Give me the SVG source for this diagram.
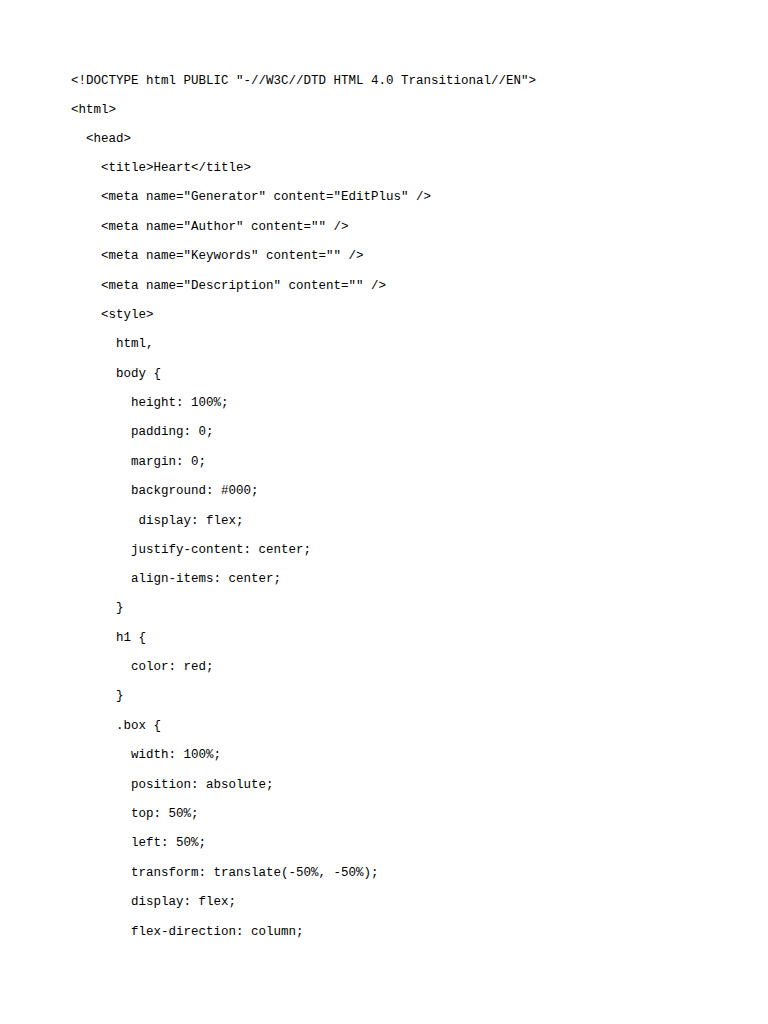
<svg xmlns="http://www.w3.org/2000/svg" width="768" height="1024" viewBox="0 0 768 1024">
<style>text{font-family:"Liberation Mono",monospace;font-size:12.5px;fill:#000;white-space:pre}</style>
<rect width="768" height="1024" fill="#fff"/>
<g id="code">
<text x="71" y="84">&lt;!DOCTYPE html PUBLIC "-//W3C//DTD HTML 4.0 Transitional//EN"&gt;</text>
<text x="71" y="113">&lt;html&gt;</text>
<text x="86" y="142">&lt;head&gt;</text>
<text x="101" y="171">&lt;title&gt;Heart&lt;/title&gt;</text>
<text x="101" y="200">&lt;meta name="Generator" content="EditPlus" /&gt;</text>
<text x="101" y="230">&lt;meta name="Author" content="" /&gt;</text>
<text x="101" y="259">&lt;meta name="Keywords" content="" /&gt;</text>
<text x="101" y="289">&lt;meta name="Description" content="" /&gt;</text>
<text x="101" y="318">&lt;style&gt;</text>
<text x="116" y="347">html,</text>
<text x="116" y="377">body {</text>
<text x="131" y="406">height: 100%;</text>
<text x="131" y="435">padding: 0;</text>
<text x="131" y="465">margin: 0;</text>
<text x="131" y="494">background: #000;</text>
<text x="131" y="524"> display: flex;</text>
<text x="131" y="553">justify-content: center;</text>
<text x="131" y="582">align-items: center;</text>
<text x="116" y="611">}</text>
<text x="116" y="641">h1 {</text>
<text x="131" y="670">color: red;</text>
<text x="116" y="699">}</text>
<text x="116" y="729">.box {</text>
<text x="131" y="758">width: 100%;</text>
<text x="131" y="788">position: absolute;</text>
<text x="131" y="817">top: 50%;</text>
<text x="131" y="846">left: 50%;</text>
<text x="131" y="876">transform: translate(-50%, -50%);</text>
<text x="131" y="905">display: flex;</text>
<text x="131" y="935">flex-direction: column;</text>
</g>
</svg>
